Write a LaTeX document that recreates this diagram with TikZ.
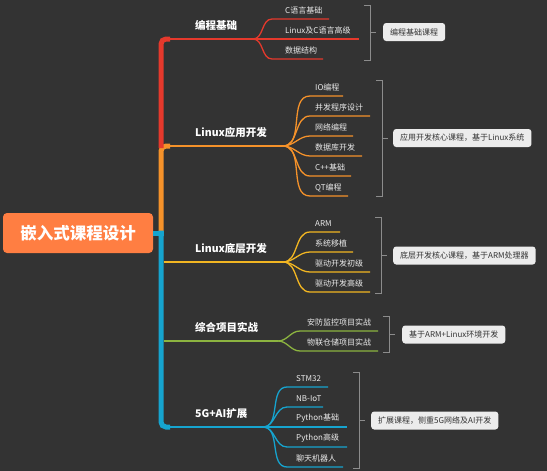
\documentclass[tikz,border=0pt]{standalone}
\usepackage{fontspec}
\setmainfont{Noto Sans CJK SC}
\definecolor{bgc}{HTML}{333333}
\definecolor{cred}{HTML}{E5392C}
\definecolor{corange}{HTML}{F5922A}
\definecolor{cyellow}{HTML}{F2B622}
\definecolor{cgreen}{HTML}{8CB440}
\definecolor{cblue}{HTML}{16A4CF}
\definecolor{rootc}{HTML}{FF7E42}
\definecolor{notec}{HTML}{ECECEC}
\definecolor{notetext}{HTML}{333333}
\definecolor{brkc}{HTML}{8C8C8C}
\newcommand\mmkid[8]{%
  \coordinate (#8s) at (#3,#4);
  \coordinate (#8e) at (#5,#4);
  \draw[kidline,#2] (#1) to[out=0,in=180] (#8s) -- (#8e);
  \node[kidlab] (#8) at (#6,#4-8.5) {#7};}
\newcommand\mmbrk[5]{%
  \coordinate (#1t) at (#2,#3);
  \coordinate (#1b) at (#2,#4);
  \coordinate (#1m) at (#2,#5);
  \draw[brk] ([xshift=-6pt]#1t) -- (#1t) -- (#1b) -- ([xshift=-6pt]#1b);
  \draw[brk] (#1m) -- ([xshift=6pt]#1m);}
\begin{document}
\begin{tikzpicture}[x=1pt,y=-1pt,
  rootbox/.style={fill=rootc, rounded corners=4pt, text=white,
    font=\fontsize{16.5}{18}\selectfont\bfseries, minimum width=150pt,
    minimum height=40pt, inner sep=0},
  mainlab/.style={anchor=west, inner sep=0, text=white,
    font=\fontsize{10.5}{12}\selectfont\bfseries},
  kidlab/.style={anchor=west, inner sep=0, text=white!92!black,
    font=\fontsize{8}{9}\selectfont},
  note/.style={anchor=west, fill=notec, rounded corners=3pt, text=notetext,
    font=\fontsize{8}{9}\selectfont, minimum height=18pt, inner xsep=7pt, inner ysep=0},
  brk/.style={draw=brkc, line width=1pt},
  spine/.style={line width=5pt, rounded corners=5pt},
  branch/.style={line width=2.6pt},
  kidline/.style={line width=1.3pt}]
\fill[bgc] (0,0) rectangle (547,471);
\useasboundingbox (0,0) rectangle (547,471);

% root
\node[rootbox] (root) at (78,233) {嵌入式课程设计};

% spine coordinates
\coordinate (g1) at (253,39);
\coordinate (g2) at (283,146);
\coordinate (g3) at (283,262);
\coordinate (g4) at (278,341);
\coordinate (g5) at (263,427);
\coordinate (sp2) at (161,236);
\coordinate (sp1) at (161,148);
\coordinate (sp5) at (161,230.5);

% spine segments
\draw[spine,corange] (sp2) |- (170,146);
\draw[spine,cred] (sp1) |- (170,39);
\draw[line width=5pt,cblue] (root.east) -- (163.5,233);
\draw[spine,cblue] (sp5) |- (170,427);

% branch lines
\draw[branch,cred] (168,39) -- (g1);
\draw[branch,corange] (168,146) -- (g2);
\draw[branch,cyellow] (163.5,262) -- (g3);
\draw[branch,cgreen] (163.5,341) -- (g4);
\draw[branch,cblue] (168,427) -- (g5);

% main labels
\node[mainlab] (m1) at (195,25.5) {编程基础};
\node[mainlab] (m2) at (195,132.5) {Linux应用开发};
\node[mainlab] (m3) at (195,248.5) {Linux底层开发};
\node[mainlab] (m4) at (195,327.5) {综合项目实战};
\node[mainlab] (m5) at (195,413.5) {5G+AI扩展};

% group 1
\mmkid{g1}{cred}{272}{19}{329}{285}{C语言基础}{k11}
\mmkid{g1}{cred}{272}{39}{359}{285}{Linux及C语言高级}{k12}
\mmkid{g1}{cred}{272}{59}{323}{285}{数据结构}{k13}
% group 2
\mmkid{g2}{corange}{310}{96}{343}{315}{IO编程}{k21}
\mmkid{g2}{corange}{310}{116}{370}{315}{并发程序设计}{k22}
\mmkid{g2}{corange}{310}{136}{353}{315}{网络编程}{k23}
\mmkid{g2}{corange}{310}{156}{362}{315}{数据库开发}{k24}
\mmkid{g2}{corange}{310}{176}{351}{315}{C++基础}{k25}
\mmkid{g2}{corange}{310}{196}{348}{315}{QT编程}{k26}
% group 3
\mmkid{g3}{cyellow}{310}{232}{340}{315}{ARM}{k31}
\mmkid{g3}{cyellow}{310}{252}{353}{315}{系统移植}{k32}
\mmkid{g3}{cyellow}{310}{272}{370}{315}{驱动开发初级}{k33}
\mmkid{g3}{cyellow}{310}{292}{370}{315}{驱动开发高级}{k34}
% group 4
\mmkid{g4}{cgreen}{300}{331}{378}{307}{安防监控项目实战}{k41}
\mmkid{g4}{cgreen}{300}{351}{378}{307}{物联仓储项目实战}{k42}
% group 5
\mmkid{g5}{cblue}{287}{387}{328}{296}{STM32}{k51}
\mmkid{g5}{cblue}{287}{407}{323}{296}{NB-IoT}{k52}
\mmkid{g5}{cblue}{287}{427}{347}{296}{Python基础}{k53}
\mmkid{g5}{cblue}{287}{447}{347}{296}{Python高级}{k54}
\mmkid{g5}{cblue}{287}{467}{343}{296}{聊天机器人}{k55}

% brackets
\mmbrk{b1}{370}{5}{60}{32}
\mmbrk{b2}{382}{80}{196}{138}
\mmbrk{b3}{381}{217}{293}{255}
\mmbrk{b4}{389}{316}{352}{334}
\mmbrk{b5}{359}{372}{468}{420}

% notes
\node[note] (n1) at (383,32) {编程基础课程};
\node[note] (n2) at (393,138) {应用开发核心课程，基于Linux系统};
\node[note] (n3) at (393,255.5) {底层开发核心课程，基于ARM处理器};
\node[note] (n4) at (402,334.5) {基于ARM+Linux环境开发};
\node[note] (n5) at (371,420.5) {扩展课程，侧重5G网络及AI开发};
\end{tikzpicture}
\end{document}
